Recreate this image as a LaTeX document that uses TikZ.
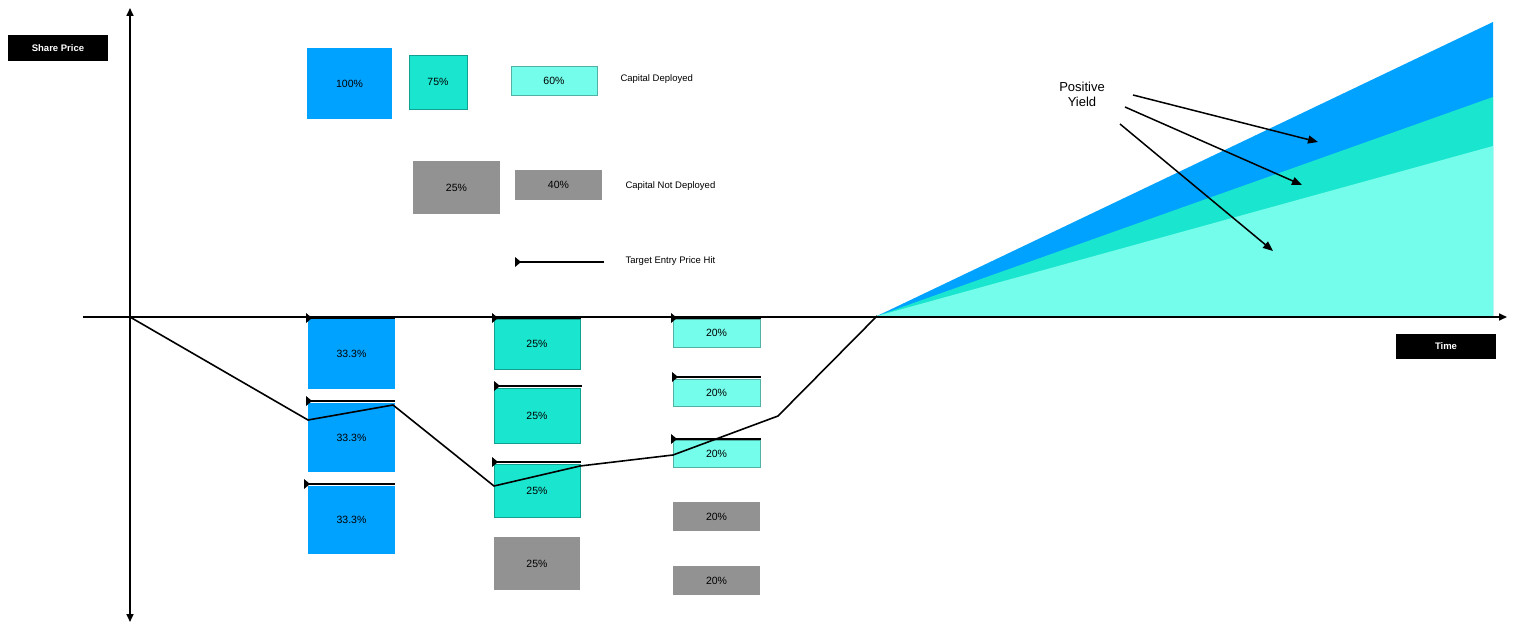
\documentclass[tikz,border=0pt]{standalone}
\usepackage{fontspec}
\setmainfont{Liberation Sans}
\usetikzlibrary{arrows.meta}
\definecolor{cblue}{HTML}{00A2FF}
\definecolor{cteal}{HTML}{1AE6CF}
\definecolor{clight}{HTML}{73FDEA}
\definecolor{cgray}{HTML}{929292}
\begin{document}
\begin{tikzpicture}[x=1pt,y=-1pt,
  bx/.style={draw=#1!70!black,line width=0.6pt,fill=#1,font=\fontsize{10.5}{12}\selectfont},
  lbl/.style={anchor=west,font=\fontsize{9.5}{11}\selectfont},
  blk/.style={fill=black,text=white,font=\bfseries\fontsize{9.5}{11}\selectfont},
  mk/.style={line width=2.4pt},
  ax/.style={line width=1.6pt,-{Triangle[length=8pt,width=7pt]}},
  ar/.style={line width=1.5pt,-{Triangle[length=10pt,width=8pt]}}]
\useasboundingbox (0,0) rectangle (1518,631);
% wedges
\fill[cblue] (877,316) -- (1493,22) -- (1493,316) -- cycle;
\fill[cteal] (877,316) -- (1493,97) -- (1493,316) -- cycle;
\fill[clight] (877,316) -- (1493,146) -- (1493,316) -- cycle;
\draw[cblue,line width=1pt] (877,316) -- (1493,316);
% axes
\coordinate (yt) at (130,8); \coordinate (yb) at (130,622);
\coordinate (xl) at (83,317); \coordinate (xr) at (1507,317);
\draw[ax,{Triangle[length=8pt,width=7pt]}-{Triangle[length=8pt,width=7pt]}] (yb) -- (yt);
\draw[ax] (xl) -- (xr);
\node[blk,minimum width=100pt,minimum height=26pt] (sp) at (58,48) {Share Price};
\node[blk,minimum width=100pt,minimum height=25pt] (tm) at (1446,346.5) {Time};
% legend
\path[fill=cblue] (307,48) rectangle (392,119) node[midway,font=\fontsize{10.5}{12}\selectfont] (l1) {100\%};
\path[bx=cteal] (409,55) rectangle (467,109) node[midway,text=black] (l2) {75\%};
\path[bx=clight] (511,66) rectangle (597,95) node[midway,text=black] (l3) {60\%};
\path[fill=cgray] (413,161) rectangle (500,214) node[midway,font=\fontsize{10.5}{12}\selectfont] (l4) {25\%};
\path[fill=cgray] (515,170) rectangle (602,200) node[midway,font=\fontsize{10.5}{12}\selectfont] (l5) {40\%};
\node[lbl] (cd) at (617,79) {Capital Deployed};
\node[lbl] (cnd) at (622,186) {Capital Not Deployed};
\node[lbl] (teh) at (622,261) {Target Entry Price Hit};
\newcommand{\entrymk}[3]{\draw[mk] (#1,#3) -- (#2,#3); \fill (#1,#3-5) -- (#1+6,#3) -- (#1,#3+5) -- cycle;}
\entrymk{515}{604}{262}
% column 1
\foreach \a/\b in {319/389,403/472,486/554}{\path[fill=cblue] (308,\a) rectangle (395,\b) node[midway,font=\fontsize{10.5}{12}\selectfont] {33.3\%};}
% column 2
\foreach \a/\b in {319/369,388/443,464/517}{\path[bx=cteal] (494,\a) rectangle (580,\b) node[midway,text=black] {25\%};}
\path[fill=cgray] (494,537) rectangle (580,590) node[midway,font=\fontsize{10.5}{12}\selectfont] {25\%};
% column 3
\foreach \a/\b in {319/347,379/406,440/467}{\path[bx=clight] (673,\a) rectangle (760,\b) node[midway,text=black] {20\%};}
\foreach \a/\b in {502/531,566/595}{\path[fill=cgray] (673,\a) rectangle (760,\b) node[midway,font=\fontsize{10.5}{12}\selectfont] {20\%};}
% markers
\entrymk{306}{395}{318} \entrymk{306}{395}{401} \entrymk{304}{395}{484}
\entrymk{492}{581}{318} \entrymk{494}{582}{386} \entrymk{492}{581}{462}
\entrymk{671}{761}{318} \entrymk{672}{761}{377} \entrymk{671}{761}{439}
% price line
\draw[line width=1.6pt,line join=miter] (130,317) -- (308,420) -- (393,405) -- (494,486) -- (580,466) -- (673,455) -- (778,416) -- (877,316);
% positive yield
\node[align=center,font=\fontsize{13}{15}\selectfont] (py) at (1082,94) {Positive\\Yield};
\coordinate (a1) at (1318,142); \coordinate (a2) at (1302,185); \coordinate (a3) at (1273,251);
\draw[ar] (1133,95) -- (a1);
\draw[ar] (1125,107) -- (a2);
\draw[ar] (1120,124) -- (a3);
\end{tikzpicture}
\end{document}
